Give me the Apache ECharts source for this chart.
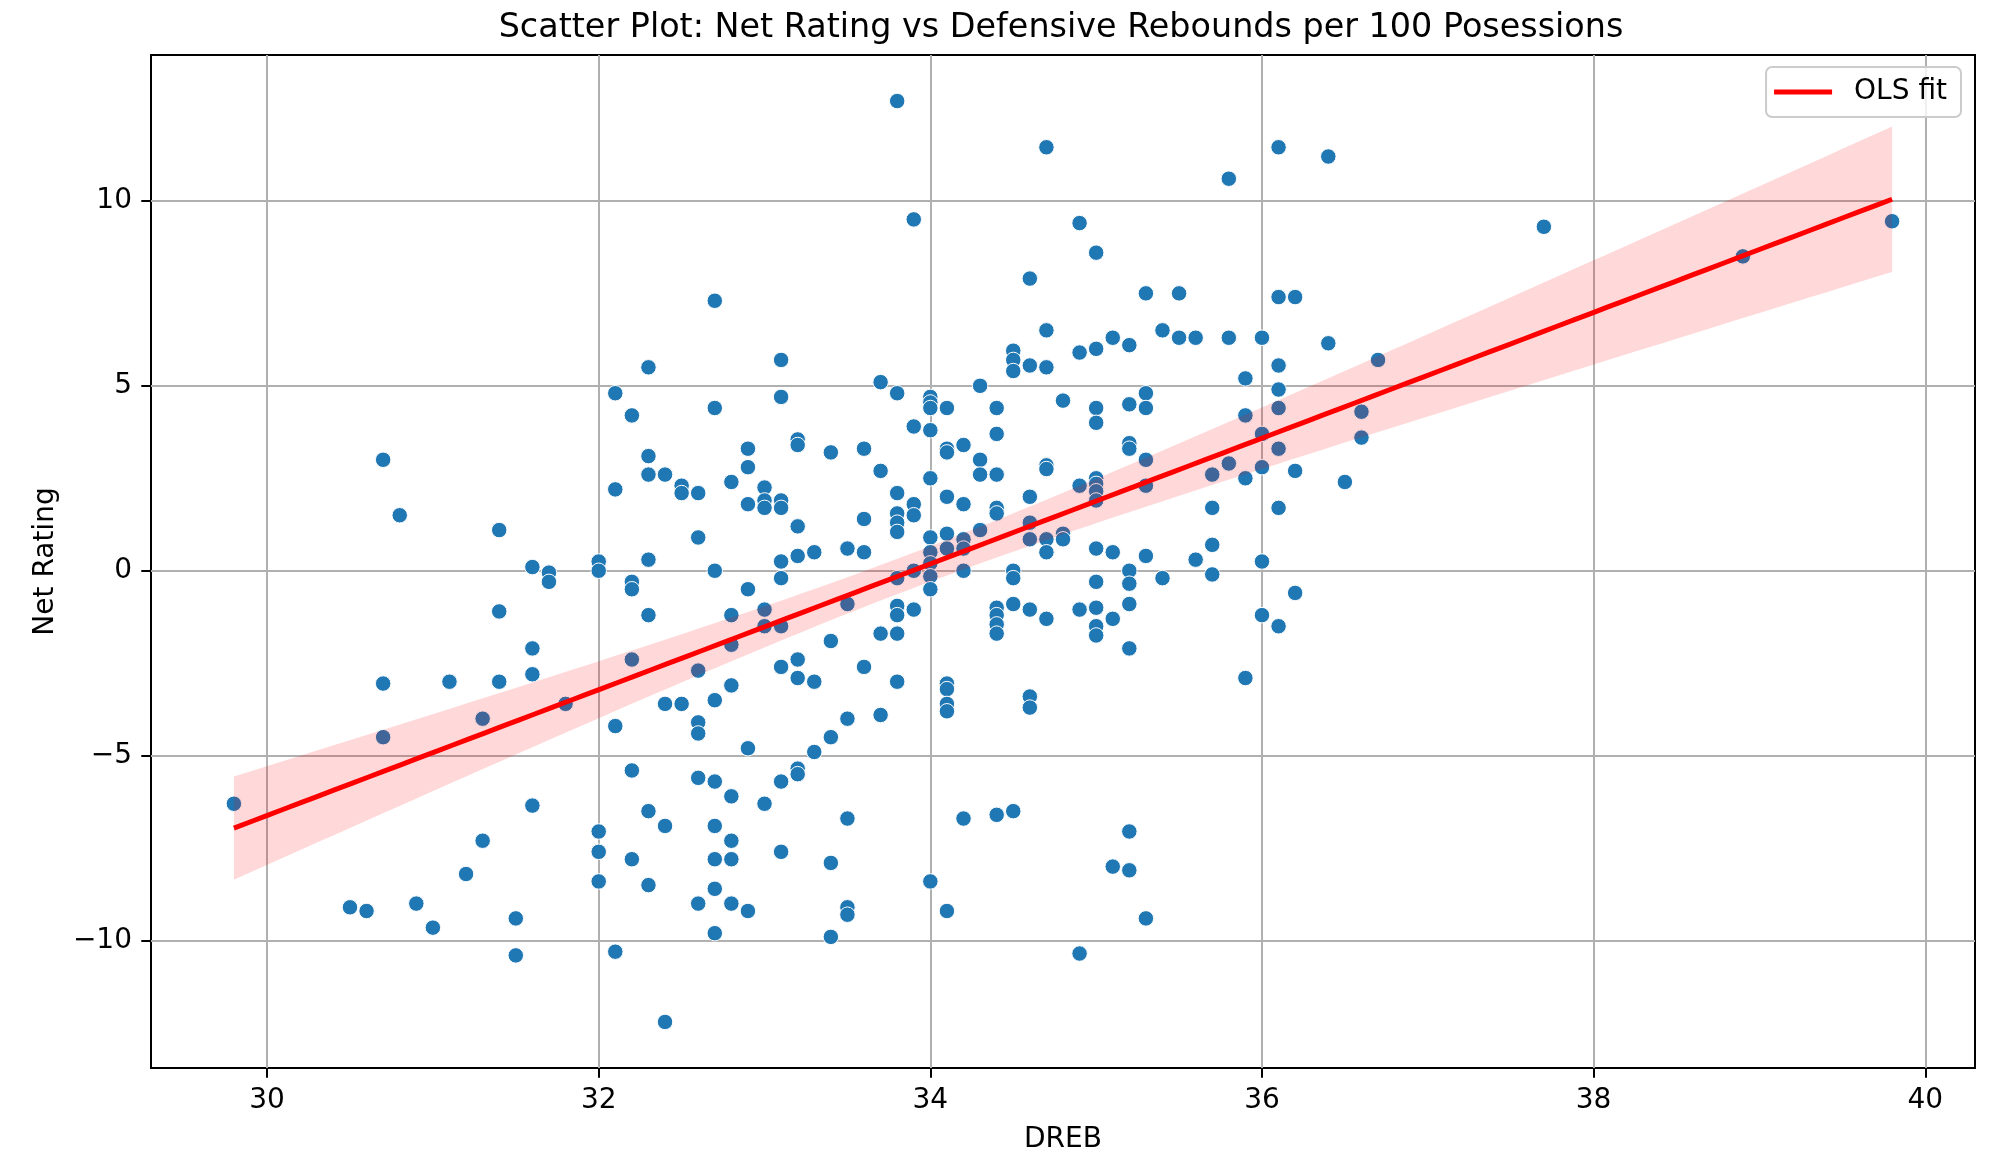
<!DOCTYPE html>
<html>
<head>
<meta charset="utf-8">
<script src="https://cdn.jsdelivr.net/npm/echarts@6/dist/echarts.min.js"></script>
<style>
html,body{margin:0;padding:0;background:#fff;}
#chart{width:2012px;height:1164px;}
</style>
</head>
<body>
<div id="chart"></div>
<script>
// DREB (defensive rebounds per 100 possessions) and Net Rating, paired by index
const dreb = [
29.8,30.5,30.6,30.7,30.7,30.7,30.8,30.9,31.0,31.1,31.2,31.3,31.3,31.4,31.4,31.4,31.5,31.5,
31.6,31.6,31.6,31.6,31.7,31.7,31.8,
32.0,32.0,32.0,32.0,32.0,
32.1,32.1,32.1,32.1,
32.2,32.2,32.2,32.2,32.2,32.2,
32.3,32.3,32.3,32.3,32.3,32.3,32.3,
32.4,32.4,32.4,32.4,
32.5,32.5,32.5,
32.6,32.6,32.6,32.6,32.6,32.6,32.6,
32.7,32.7,32.7,32.7,32.7,32.7,32.7,32.7,32.7,
32.8,32.8,32.8,32.8,32.8,32.8,32.8,32.8,
32.9,32.9,32.9,32.9,32.9,32.9,
33.0,33.0,33.0,33.0,33.0,33.0,
33.1,33.1,33.1,33.1,33.1,33.1,33.1,33.1,33.1,33.1,
33.2,33.2,33.2,33.2,33.2,33.2,33.2,33.2,
33.3,33.3,33.3,
33.4,33.4,33.4,33.4,33.4,
33.5,33.5,33.5,33.5,33.5,33.5,
33.6,33.6,33.6,33.6,
33.7,33.7,33.7,33.7,
33.8,33.8,33.8,33.8,33.8,33.8,33.8,33.8,33.8,33.8,33.8,
33.9,33.9,33.9,33.9,33.9,33.9,
34.0,34.0,34.0,34.0,34.0,34.0,34.0,34.0,34.0,34.0,34.0,
34.1,34.1,34.1,34.1,34.1,34.1,34.1,34.1,34.1,34.1,34.1,
34.2,34.2,34.2,34.2,34.2,34.2,
34.3,34.3,34.3,34.3,
34.4,34.4,34.4,34.4,34.4,34.4,34.4,34.4,34.4,34.4,
34.5,34.5,34.5,34.5,34.5,34.5,34.5,
34.6,34.6,34.6,34.6,34.6,34.6,34.6,34.6,
34.7,34.7,34.7,34.7,34.7,34.7,34.7,34.7,
34.8,34.8,34.8,
34.9,34.9,34.9,34.9,34.9,
35.0,35.0,35.0,35.0,35.0,35.0,35.0,35.0,35.0,35.0,35.0,35.0,35.0,
35.1,35.1,35.1,35.1,
35.2,35.2,35.2,35.2,35.2,35.2,35.2,35.2,35.2,35.2,
35.3,35.3,35.3,35.3,35.3,35.3,35.3,
35.4,35.4,35.5,35.5,35.6,35.6,
35.7,35.7,35.7,35.7,
35.8,35.8,35.8,
35.9,35.9,35.9,35.9,
36.0,36.0,36.0,36.0,36.0,
36.1,36.1,36.1,36.1,36.1,36.1,36.1,36.1,
36.2,36.2,36.2,
36.4,36.4,36.5,36.6,36.6,36.7,37.7,38.9,39.8
];
const netRating = [
-6.3,-9.1,-9.2,3.0,-3.05,-4.5,1.5,-9.0,-9.65,-3.0,-8.2,-4.0,-7.3,1.1,-1.1,-3.0,-9.4,-10.4,
0.1,-2.1,-2.8,-6.35,-0.05,-0.3,-3.6,
0.25,0.0,-7.05,-7.6,-8.4,
4.8,2.2,-4.2,-10.3,
4.2,-0.3,-0.5,-2.4,-5.4,-7.8,
5.5,3.1,2.6,0.3,-1.2,-6.5,-8.5,
2.6,-3.6,-6.9,-12.2,
2.3,2.1,-3.6,
2.1,0.9,-2.7,-4.1,-4.4,-5.6,-9.0,
7.3,4.4,0.0,-3.5,-5.7,-6.9,-7.8,-8.6,-9.8,
2.4,-1.2,-2.0,-3.1,-6.1,-7.3,-7.8,-9.0,
3.3,2.8,1.8,-0.5,-4.8,-9.2,
2.25,1.9,1.7,-1.05,-1.5,-6.3,
5.7,4.7,1.9,1.7,0.25,-0.2,-1.5,-2.6,-5.7,-7.6,
3.55,3.4,1.2,0.4,-2.4,-2.9,-5.35,-5.5,
0.5,-3.0,-4.9,
3.2,-1.9,-4.5,-7.9,-9.9,
0.6,-0.9,-4.0,-6.7,-9.1,-9.3,
3.3,1.4,0.5,-2.6,
5.1,2.7,-1.7,-3.9,
12.7,4.8,2.1,1.55,1.3,1.05,-0.2,-0.95,-1.2,-1.7,-3.0,
9.5,3.9,1.8,1.5,0.0,-1.05,
4.7,4.55,4.4,3.8,2.5,0.9,0.5,0.2,-0.15,-0.5,-8.4,
4.4,3.3,3.2,2.0,1.0,0.6,-3.05,-3.2,-3.6,-3.8,-9.2,
3.4,1.8,0.85,0.6,0.0,-6.7,
5.0,3.0,2.6,1.1,
4.4,3.7,2.6,1.7,1.55,-1.0,-1.2,-1.45,-1.7,-6.6,
5.95,5.7,5.4,0.0,-0.2,-0.9,-6.5,
7.9,5.55,2.0,1.3,0.85,-1.05,-3.4,-3.7,
11.45,6.5,5.5,2.85,2.75,0.85,0.5,-1.3,
4.6,1.0,0.85,
9.4,5.9,2.3,-1.05,-10.35,
8.6,6.0,4.4,4.0,2.5,2.35,2.15,1.9,0.6,-0.3,-1.0,-1.5,-1.75,
6.3,0.5,-1.3,-8.0,
6.1,4.5,3.45,3.3,0.0,-0.35,-0.9,-2.1,-7.05,-8.1,
7.5,4.8,4.4,3.0,2.3,0.4,-9.4,
6.5,-0.2,7.5,6.3,6.3,0.3,
2.6,1.7,0.7,-0.1,
10.6,6.3,2.9,
5.2,4.2,2.5,-2.9,
6.3,3.7,2.8,0.25,-1.2,
11.45,7.4,5.55,4.9,4.4,3.3,1.7,-1.5,
7.4,2.7,-0.6,
11.2,6.15,2.4,4.3,3.6,5.7,9.3,8.5,9.45
];
const xTicks = [30, 32, 34, 36, 38, 40];
const yTicks = [-10, -5, 0, 5, 10];

// ---- OLS fit + 95% confidence band for the mean ----
const n = Math.min(dreb.length, netRating.length);
let xbar = 0, ybar = 0;
for (let i = 0; i < n; i++) { xbar += dreb[i]; ybar += netRating[i]; }
xbar /= n; ybar /= n;
let sxx = 0, sxy = 0;
for (let i = 0; i < n; i++) { sxx += (dreb[i]-xbar)**2; sxy += (dreb[i]-xbar)*(netRating[i]-ybar); }
const slope = sxy / sxx, intercept = ybar - slope * xbar;
let sse = 0;
for (let i = 0; i < n; i++) { const r = netRating[i] - (intercept + slope*dreb[i]); sse += r*r; }
const sRes = Math.sqrt(sse / (n - 2));
const tCrit = 1.968;
const xMin = Math.min(...dreb.slice(0,n)), xMax = Math.max(...dreb.slice(0,n));
const yMin = Math.min(...netRating.slice(0,n)), yMax = Math.max(...netRating.slice(0,n));
const fitX = [], fitY = [], upper = [], lower = [];
for (let k = 0; k < 100; k++) {
  const x = xMin + (xMax - xMin) * k / 99;
  const yh = intercept + slope * x;
  const se = sRes * Math.sqrt(1/n + (x - xbar)**2 / sxx);
  fitX.push(x); fitY.push(yh); upper.push(yh + tCrit*se); lower.push(yh - tCrit*se);
}

const xPad = 0.05 * (xMax - xMin), yPad = 0.05 * (yMax - yMin);
const FONT = 'DejaVu Sans';
const minus = v => (v < 0 ? '\u2212' + Math.abs(v) : String(v));

const chart = echarts.init(document.getElementById('chart'), null, {renderer: 'canvas'});
chart.setOption({
  animation: false,
  backgroundColor: '#ffffff',
  title: {
    text: 'Scatter Plot: Net Rating vs Defensive Rebounds per 100 Posessions',
    left: 1056, textAlign: 'center', top: 7,
    textStyle: {fontFamily: FONT, fontSize: 33.4, fontWeight: 'normal', color: '#000'}
  },
  legend: {
    data: ['OLS fit'],
    right: 51, top: 67,
    orient: 'vertical',
    padding: [11, 14, 11, 8],
    backgroundColor: 'rgba(255,255,255,0.8)',
    borderColor: '#cccccc', borderWidth: 2, borderRadius: 6,
    itemWidth: 58, itemHeight: 5,
    icon: 'rect',
    textStyle: {fontFamily: FONT, fontSize: 28, color: '#000', padding: [0, 0, 0, 17]}
  },
  grid: {left: 151, top: 55, width: 1824, height: 1013, show: true, borderColor: '#000', borderWidth: 2, backgroundColor: 'transparent'},
  xAxis: {
    type: 'value',
    min: xMin - xPad, max: xMax + xPad,
    name: 'DREB', nameLocation: 'middle', nameGap: 58,
    nameTextStyle: {fontFamily: FONT, fontSize: 28, color: '#000'},
    axisLine: {show: false, onZero: false},
    axisTick: {show: true, length: 9.7, lineStyle: {color: '#000', width: 2}, customValues: xTicks},
    axisLabel: {fontFamily: FONT, fontSize: 28, color: '#000', margin: 19, customValues: xTicks, formatter: minus},
    splitLine: {show: true, lineStyle: {color: '#b0b0b0', width: 2}}
  },
  yAxis: {
    type: 'value',
    min: yMin - yPad, max: yMax + yPad,
    name: 'Net Rating', nameLocation: 'middle', nameGap: 91, nameRotate: 90,
    nameTextStyle: {fontFamily: FONT, fontSize: 28, color: '#000'},
    axisLine: {show: false, onZero: false},
    axisTick: {show: true, length: 9.7, lineStyle: {color: '#000', width: 2}, customValues: yTicks},
    axisLabel: {fontFamily: FONT, fontSize: 28, color: '#000', margin: 19, customValues: yTicks, formatter: minus},
    splitLine: {show: true, lineStyle: {color: '#b0b0b0', width: 2}}
  },
  series: [
    {
      type: 'scatter', name: 'points',
      data: dreb.slice(0, n).map((x, i) => [x, netRating[i]]),
      symbolSize: 15.5,
      itemStyle: {color: '#1f77b4', borderColor: '#ffffff', borderWidth: 1, opacity: 1},
      z: 2, silent: true
    },
    {
      type: 'custom', name: 'band',
      data: [[fitX[0], fitY[0]]],
      renderItem: function (params, api) {
        const pts = [];
        for (let k = 0; k < fitX.length; k++) pts.push(api.coord([fitX[k], upper[k]]));
        for (let k = fitX.length - 1; k >= 0; k--) pts.push(api.coord([fitX[k], lower[k]]));
        return {type: 'polygon', shape: {points: pts}, style: {fill: 'rgba(255,0,0,0.15)'}};
      },
      z: 3, silent: true
    },
    {
      type: 'line', name: 'OLS fit',
      data: fitX.map((x, k) => [x, fitY[k]]),
      showSymbol: false, symbol: 'none',
      lineStyle: {color: '#ff0000', width: 5},
      itemStyle: {color: '#ff0000'},
      z: 4, silent: true
    }
  ]
});
</script>
</body>
</html>
